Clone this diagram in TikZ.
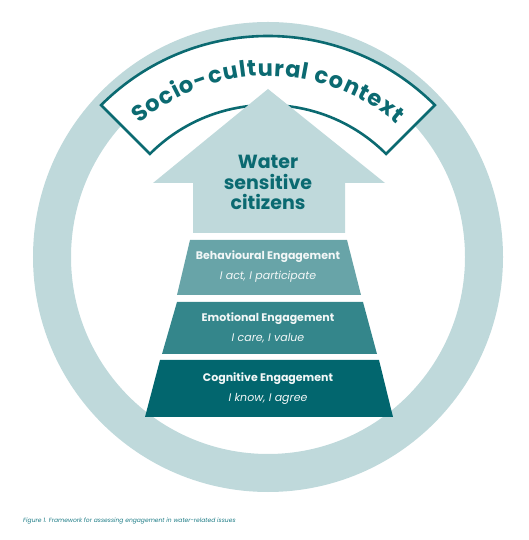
\documentclass[tikz,border=0pt]{standalone}
\usepackage{fontspec}
\setmainfont{Poppins}
\usetikzlibrary{decorations.text}
\definecolor{ringmist}{HTML}{BFD9DB}
\definecolor{deepteal}{HTML}{0B6A71}
\definecolor{tiercog}{HTML}{02666E}
\definecolor{tieremo}{HTML}{34868B}
\definecolor{tierbeh}{HTML}{68A4A8}
\definecolor{tiertext}{HTML}{F2F7F7}
\definecolor{captionteal}{HTML}{1D7C86}
\tikzset{
  ring/.style      = {draw=ringmist, line width=38pt},
  banner/.style    = {draw=deepteal, line width=2.6pt, fill=white, line join=miter},
  uparrow/.style   = {fill=ringmist, draw=none},
  tier/.style      = {draw=none},
  tierlabel/.style = {text=tiertext, align=center, inner sep=0pt,
                      font=\fontsize{11}{20}\selectfont},
  citizens/.style  = {text=deepteal, align=center, inner sep=0pt,
                      font=\fontsize{19}{20.5}\selectfont\bfseries},
  caption/.style   = {text=captionteal, anchor=west, inner sep=0pt,
                      font=\fontsize{6}{7}\selectfont\itshape},
}

\begin{document}
\begin{tikzpicture}[x=1pt, y=1pt]
  \useasboundingbox (0,0) rectangle (529,540);

  % context ring
  \coordinate (hub) at (268,283);
  \draw[ring] (hub) circle[radius=216];

  % banner with curved title
  \coordinate (bc) at (268,268);
  \draw[banner] ([shift={(45:167)}]bc) arc[start angle=45, end angle=135, radius=167]
    -- ([shift={(135:236)}]bc) arc[start angle=135, end angle=45, radius=236] -- cycle;
  \path[decorate, decoration={text along path, text align={fit to path},
      text={|\color{deepteal}\fontsize{22.5}{22.5}\selectfont\bfseries|Socio-cultural context}}]
    ([shift={(131:196)}]bc) arc[start angle=131, end angle=49, radius=196];

  % arrow
  \fill[uparrow] (193,307) -- (193,357) -- (153,357) -- (268,451)
    -- (385,357) -- (345,357) -- (345,307) -- cycle;
  \node[citizens] (wsc) at (268,357.5) {Water\\sensitive\\citizens};

  % engagement tiers
  \fill[tier, tierbeh] (177,245) -- (190,300) -- (347,300) -- (361,245) -- cycle;
  \fill[tier, tieremo] (162,186) -- (177,238) -- (363,238) -- (377,186) -- cycle;
  \fill[tier, tiercog] (145,123) -- (160,180) -- (379,180) -- (393,123) -- cycle;

  \node[tierlabel] (beh) at (268,273) {\textbf{Behavioural Engagement}\\\textit{I act, I participate}};
  \node[tierlabel] (emo) at (268,212) {\textbf{Emotional Engagement}\\\textit{I care, I value}};
  \node[tierlabel] (cog) at (268,151) {\textbf{Cognitive Engagement}\\\textit{I know, I agree}};

  \node[caption] (cap) at (23,19) {Figure 1. Framework for assessing engagement in water-related issues};
\end{tikzpicture}
\end{document}
